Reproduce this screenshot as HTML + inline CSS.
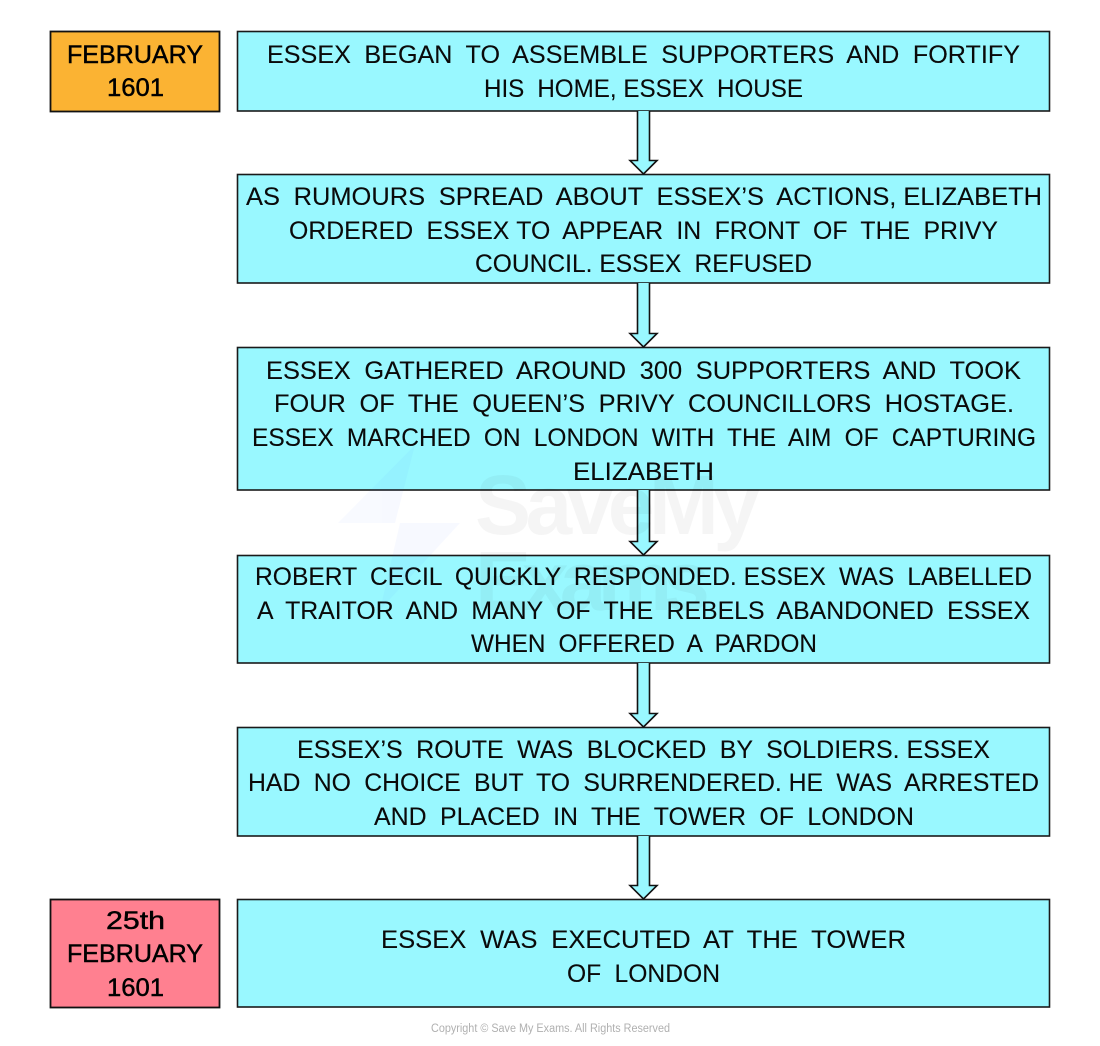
<!DOCTYPE html>
<html><head><meta charset="utf-8">
<style>
html,body{margin:0;padding:0;background:#fff}
svg{display:block}
.t{font-family:"Liberation Sans",sans-serif;font-size:25px;word-spacing:6.500px;fill:#0a0a0a;stroke:#0a0a0a;stroke-width:.1px}
.n{word-spacing:0}
.b{font-family:"Liberation Sans",sans-serif;font-size:25px;fill:#000;stroke:#000;stroke-width:.45px}
.box{fill:#99F8FF;stroke:#1a1a1a;stroke-width:1.6}
.ar{fill:#99F8FF;stroke:#111;stroke-width:1.6;stroke-linejoin:miter}
</style></head><body>
<svg width="1100" height="1046" viewBox="0 0 1100 1046" xmlns="http://www.w3.org/2000/svg">
<rect width="1100" height="1046" fill="#fff"/>
<rect x="50.500" y="31.500" width="169" height="80" fill="#FBB333" stroke="#111" stroke-width="1.8"/>
<rect x="50.500" y="899.500" width="169" height="108" fill="#FF8090" stroke="#111" stroke-width="1.8"/>
<rect class="box" x="237.500" y="31.500" width="812" height="79.500"/>
<rect class="box" x="237.500" y="174.500" width="812" height="108.500"/>
<rect class="box" x="237.500" y="347.500" width="812" height="142.500"/>
<rect class="box" x="237.500" y="555.500" width="812" height="107.500"/>
<rect class="box" x="237.500" y="727.500" width="812" height="108.500"/>
<rect class="box" x="237.500" y="899.500" width="812" height="107.500"/>
<path class="ar" d="M637.500 111V160.500H630L643.500 174L657 160.500H649.500V111"/>
<path class="ar" d="M637.500 283V333.500H630L643.500 347L657 333.500H649.500V283"/>
<path class="ar" d="M637.500 490V541.500H630L643.500 555L657 541.500H649.500V490"/>
<path class="ar" d="M637.500 663V713.500H630L643.500 727L657 713.500H649.500V663"/>
<path class="ar" d="M637.500 836V885.500H630L643.500 899L657 885.500H649.500V836"/>

<text class="b" x="67" y="63" textLength="136" lengthAdjust="spacingAndGlyphs">FEBRUARY</text>
<text class="b" x="107" y="96" textLength="57" lengthAdjust="spacingAndGlyphs">1601</text>
<text class="b" x="106" y="929" textLength="59" lengthAdjust="spacingAndGlyphs">25th</text>
<text class="b" x="67" y="962" textLength="136" lengthAdjust="spacingAndGlyphs">FEBRUARY</text>
<text class="b" x="107" y="996" textLength="57" lengthAdjust="spacingAndGlyphs">1601</text>

<text class="t" lengthAdjust="spacingAndGlyphs" x="267" y="63" textLength="753">ESSEX BEGAN TO ASSEMBLE SUPPORTERS AND FORTIFY</text>
<text class="t" lengthAdjust="spacingAndGlyphs" x="484" y="97" textLength="319">HIS HOME,<tspan class="n"> </tspan>ESSEX HOUSE</text>

<text class="t" lengthAdjust="spacingAndGlyphs" x="246" y="205" textLength="796">AS RUMOURS SPREAD ABOUT ESSEX’S ACTIONS,<tspan class="n"> </tspan>ELIZABETH</text>
<text class="t" lengthAdjust="spacingAndGlyphs" x="289" y="239" textLength="709">ORDERED ESSEX<tspan class="n"> </tspan>TO APPEAR IN FRONT OF THE PRIVY</text>
<text class="t" lengthAdjust="spacingAndGlyphs" x="475" y="272" textLength="337">COUNCIL.<tspan class="n"> </tspan>ESSEX REFUSED</text>

<text class="t" lengthAdjust="spacingAndGlyphs" x="266" y="379" textLength="755">ESSEX GATHERED AROUND 300 SUPPORTERS AND TOOK</text>
<text class="t" lengthAdjust="spacingAndGlyphs" x="274" y="412" textLength="740">FOUR OF THE QUEEN’S PRIVY COUNCILLORS HOSTAGE.</text>
<text class="t" lengthAdjust="spacingAndGlyphs" x="252" y="446" textLength="784">ESSEX MARCHED ON LONDON WITH THE AIM OF CAPTURING</text>
<text class="t" lengthAdjust="spacingAndGlyphs" x="573" y="480" textLength="141">ELIZABETH</text>

<text class="t" lengthAdjust="spacingAndGlyphs" x="255" y="585" textLength="777">ROBERT CECIL QUICKLY RESPONDED.<tspan class="n"> </tspan>ESSEX WAS LABELLED</text>
<text class="t" lengthAdjust="spacingAndGlyphs" x="257" y="619" textLength="773">A TRAITOR AND MANY OF THE REBELS ABANDONED ESSEX</text>
<text class="t" lengthAdjust="spacingAndGlyphs" x="471" y="652" textLength="346">WHEN OFFERED A PARDON</text>

<text class="t" lengthAdjust="spacingAndGlyphs" x="297" y="758" textLength="693">ESSEX’S ROUTE WAS BLOCKED BY SOLDIERS.<tspan class="n"> </tspan>ESSEX</text>
<text class="t" lengthAdjust="spacingAndGlyphs" x="248" y="791" textLength="791">HAD NO CHOICE BUT TO SURRENDERED.<tspan class="n"> </tspan>HE WAS ARRESTED</text>
<text class="t" lengthAdjust="spacingAndGlyphs" x="374" y="825" textLength="540">AND PLACED IN THE TOWER OF LONDON</text>

<text class="t" lengthAdjust="spacingAndGlyphs" x="381" y="948" textLength="525">ESSEX WAS EXECUTED AT THE TOWER</text>
<text class="t" lengthAdjust="spacingAndGlyphs" x="567" y="982" textLength="153">OF LONDON</text>

<g opacity=".035">
<path d="M415 445L338 523H395ZM400 523H460L380 610Z" fill="#3a6cff"/>
<text x="475" y="534" font-family="'Liberation Sans',sans-serif" font-weight="700" font-size="84" fill="#000" textLength="285">SaveMy</text>
<text x="475" y="610" font-family="'Liberation Sans',sans-serif" font-weight="700" font-size="84" fill="#000" textLength="235">Exams</text>
</g>

<text x="431" y="1032" font-family="'Liberation Sans',sans-serif" font-size="11.500px" fill="#b0b0b0" textLength="239" lengthAdjust="spacingAndGlyphs">Copyright © Save My Exams. All Rights Reserved</text>
</svg>
</body></html>
